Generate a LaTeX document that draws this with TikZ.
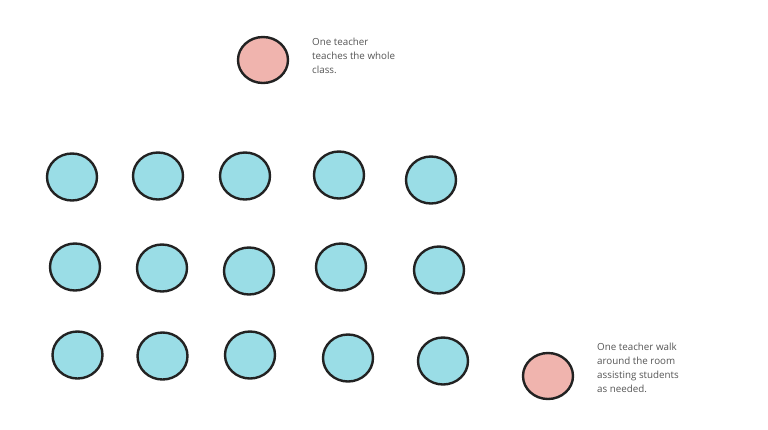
\documentclass[tikz,border=0pt]{standalone}
\usepackage{fontspec}
\setmainfont{Open Sans}
\usetikzlibrary{shapes.geometric}
\definecolor{seat}{HTML}{9ADDE6}
\definecolor{teach}{HTML}{F0B4AE}
\definecolor{rim}{HTML}{222222}
\definecolor{txt}{HTML}{555555}
\begin{document}
\begin{tikzpicture}[x=1pt,y=-1pt,
  student/.style={ellipse,draw=rim,fill=seat,line width=2.4pt,minimum width=50pt,minimum height=47pt,inner sep=0pt},
  teacher/.style={ellipse,draw=rim,fill=teach,line width=2.4pt,minimum width=50pt,minimum height=46pt,inner sep=0pt},
  note/.style={anchor=north west,inner sep=0pt,align=left,text=txt,font=\fontsize{9.8}{14}\selectfont}]
\useasboundingbox (0,0) rectangle (768,429);
\fill[white] (0,0) rectangle (768,429);
% row 1
\node[student] (s11) at (72,177) {};
\node[student] (s12) at (158,176) {};
\node[student] (s13) at (245,176) {};
\node[student] (s14) at (339,175) {};
\node[student] (s15) at (431,180) {};
% row 2
\node[student] (s21) at (75,267) {};
\node[student] (s22) at (162,268) {};
\node[student] (s23) at (249,271) {};
\node[student] (s24) at (341,267) {};
\node[student] (s25) at (439,270) {};
% row 3
\node[student] (s31) at (77.5,355) {};
\node[student] (s32) at (162.5,356) {};
\node[student] (s33) at (250,355) {};
\node[student] (s34) at (348,358) {};
\node[student] (s35) at (443,361) {};
% teachers
\node[teacher] (t1) at (263,60) {};
\node[teacher] (t2) at (548,376) {};
\node[note] (n1) at (312,37.5) {One teacher\\teaches the whole\\class.};
\node[note] (n2) at (597,342.5) {One teacher walk\\around the room\\assisting students\\as needed.};
\end{tikzpicture}
\end{document}
